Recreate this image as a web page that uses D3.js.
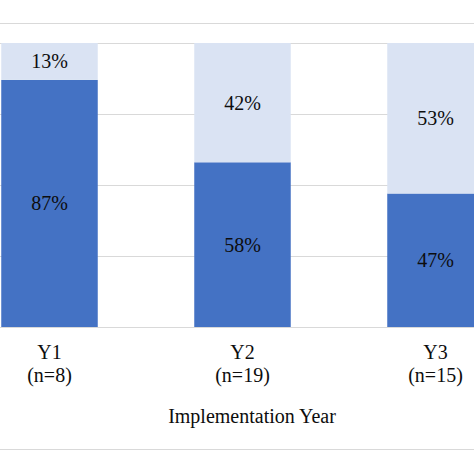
<!DOCTYPE html>
<html>
<head>
<meta charset="utf-8">
<script src="https://cdn.jsdelivr.net/npm/d3@7"></script>
<style>
  body { margin: 0; background: #fff; }
  text { font-family: "Liberation Serif", "Times New Roman", serif; fill: #0d0d0d; }
</style>
</head>
<body>
<div id="chart"></div>
<script>
// chart data
var years = ["Y1", "Y2", "Y3"];
var counts = ["(n=8)", "(n=19)", "(n=15)"];
var darkShare = [87, 58, 47];
var lightShare = [13, 42, 53];
var yTicks = [0, 25, 50, 75, 100];

(function() {
    var W = 474, H = 474;

    var svg = d3.select("#chart")
        .append("svg")
        .attr("width", W)
        .attr("height", H);

    // the original chart is cropped on both sides, so the band range runs off the picture
    var x = d3.scaleBand()
        .domain(years)
        .range([-47, 532])
        .paddingInner(0.5)
        .paddingOuter(0.25);

    var y = d3.scaleLinear()
        .domain([0, 100])
        .range([327, 43]);

    // chart frame lines (top and bottom)
    svg.append("line")
        .attr("x1", 0).attr("x2", W)
        .attr("y1", 23.5).attr("y2", 23.5)
        .attr("stroke", "#d9d9d9").attr("stroke-width", 1);
    svg.append("line")
        .attr("x1", 0).attr("x2", W)
        .attr("y1", 449.5).attr("y2", 449.5)
        .attr("stroke", "#d9d9d9").attr("stroke-width", 1);

    // gridlines
    svg.append("g")
        .selectAll("line")
        .data(yTicks)
        .enter()
        .append("line")
        .attr("x1", 0).attr("x2", W)
        .attr("y1", function(d) { return Math.round(y(d)) + 0.5; })
        .attr("y2", function(d) { return Math.round(y(d)) + 0.5; })
        .attr("stroke", "#d9d9d9")
        .attr("stroke-width", 1);

    var rows = years.map(function(d, i) {
        return {year: d, n: counts[i], dark: darkShare[i], light: lightShare[i]};
    });

    var stack = d3.stack().keys(["dark", "light"])(rows);
    var colors = {dark: "#4472c4", light: "#dae3f3"};

    var layer = svg.selectAll("g.layer")
        .data(stack)
        .enter()
        .append("g")
        .attr("class", "layer")
        .attr("fill", function(s) { return colors[s.key]; });

    layer.selectAll("rect")
        .data(function(s) { return s; })
        .enter()
        .append("rect")
        .attr("x", function(d) { return x(d.data.year); })
        .attr("width", x.bandwidth())
        .attr("y", function(d) { return y(d[1]); })
        .attr("height", function(d) { return y(d[0]) - y(d[1]); });

    // value labels in the middle of each segment
    layer.selectAll("text")
        .data(function(s) { return s; })
        .enter()
        .append("text")
        .attr("x", function(d) { return x(d.data.year) + x.bandwidth() / 2; })
        .attr("y", function(d) { return (y(d[0]) + y(d[1])) / 2; })
        .attr("dy", "0.35em")
        .attr("text-anchor", "middle")
        .attr("font-size", 20)
        .text(function(d) { return (d[1] - d[0]) + "%"; });

    // category labels, two lines each
    var cat = svg.append("g")
        .selectAll("text")
        .data(rows)
        .enter()
        .append("text")
        .attr("text-anchor", "middle")
        .attr("font-size", 20)
        .attr("x", function(d) { return x(d.year) + x.bandwidth() / 2; })
        .attr("y", 359);
    cat.append("tspan")
        .attr("x", function(d) { return x(d.year) + x.bandwidth() / 2; })
        .text(function(d) { return d.year; });
    cat.append("tspan")
        .attr("x", function(d) { return x(d.year) + x.bandwidth() / 2; })
        .attr("dy", 23)
        .text(function(d) { return d.n; });

    // axis title
    svg.append("text")
        .attr("text-anchor", "middle")
        .attr("font-size", 20)
        .attr("x", 252)
        .attr("y", 423)
        .text("Implementation Year");
})();
</script>
</body>
</html>
